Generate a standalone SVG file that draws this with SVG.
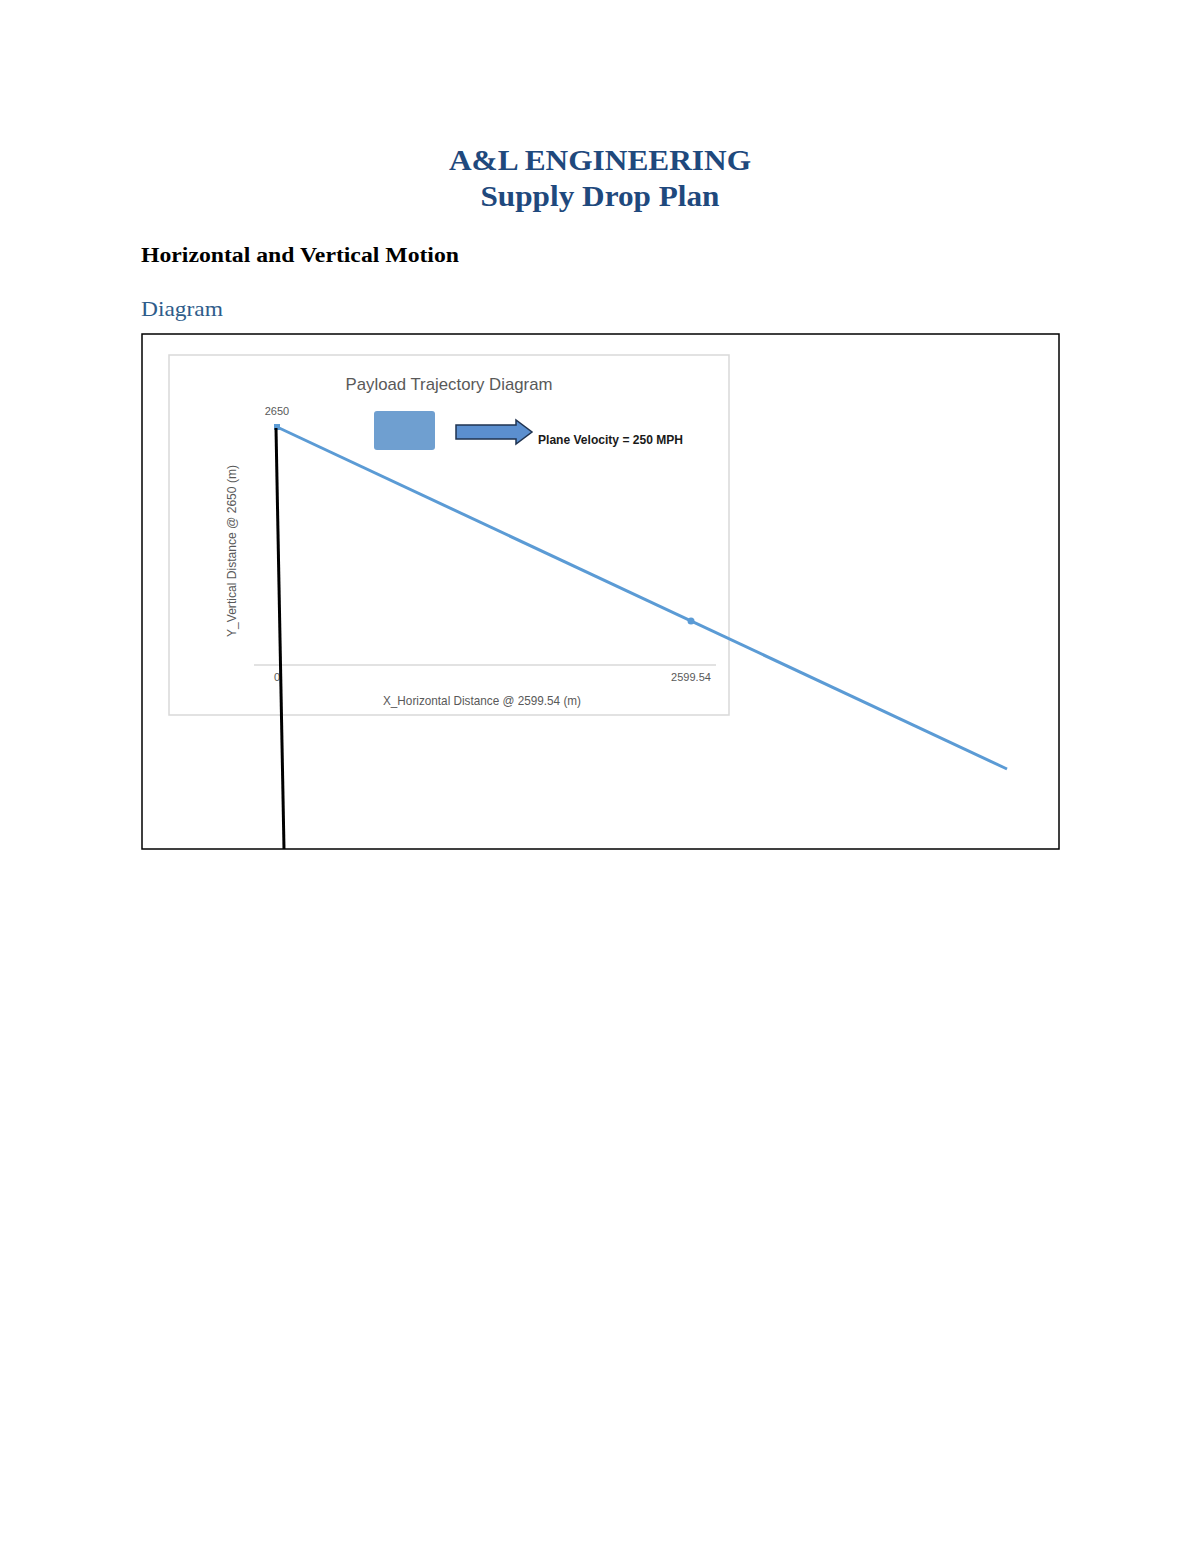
<svg xmlns="http://www.w3.org/2000/svg" width="1200" height="1553" viewBox="0 0 1200 1553">
<style>
.title{font-family:"Liberation Serif","Times New Roman",serif;font-weight:bold;fill:#1f497d;font-size:30px;text-anchor:middle}
.head{font-family:"Liberation Serif",serif;font-weight:bold;fill:#000;font-size:20px}
.sub{font-family:"Liberation Serif",serif;fill:#2e5c8a;font-size:22px}
.ct{font-family:"Liberation Sans Narrow","Liberation Sans",sans-serif;fill:#595959}
</style>
<rect width="1200" height="1553" fill="#fff"/>
<text class="title" x="600" y="170" textLength="302" lengthAdjust="spacingAndGlyphs">A&amp;L ENGINEERING</text>
<text class="title" x="600" y="206" textLength="239" lengthAdjust="spacingAndGlyphs">Supply Drop Plan</text>
<text class="head" x="141" y="262" textLength="318" lengthAdjust="spacingAndGlyphs">Horizontal and Vertical Motion</text>
<text class="sub" x="141" y="316" textLength="82" lengthAdjust="spacingAndGlyphs">Diagram</text>
<g id="frame"><rect x="142" y="334" width="917" height="515" fill="none" stroke="#000" stroke-width="1.5"/></g>
<g id="chart">
<rect x="169" y="355" width="560" height="360" fill="#fff" stroke="#d9d9d9" stroke-width="1.5"/>
<text class="ct" x="449" y="390" font-size="17" text-anchor="middle" textLength="207" lengthAdjust="spacingAndGlyphs">Payload Trajectory Diagram</text>
<line x1="254" y1="665" x2="716" y2="665" stroke="#d9d9d9" stroke-width="1.5"/>
<text class="ct" x="277" y="415" font-size="11" text-anchor="middle" fill="#404040">2650</text>
<text class="ct" x="277" y="681" font-size="11" text-anchor="middle" fill="#404040">0</text>
<text class="ct" x="691" y="681" font-size="11" text-anchor="middle" fill="#404040">2599.54</text>
<text class="ct" x="482" y="705" font-size="13" text-anchor="middle" textLength="198" lengthAdjust="spacingAndGlyphs">X_Horizontal Distance @ 2599.54 (m)</text>
<text class="ct" font-size="13" text-anchor="middle" transform="translate(236,551) rotate(-90)" textLength="172" lengthAdjust="spacingAndGlyphs">Y_Vertical Distance @ 2650  (m)</text>
</g>
<g id="plane"><rect x="374" y="411" width="61" height="39" rx="3" fill="#6f9fd0"/></g>
<g id="arrow"><path d="M456,425 L516,425 L516,420 L532,432 L516,444 L516,439 L456,439 Z" fill="#5b8fcf" stroke="#1f3350" stroke-width="1.5"/>
<text x="538" y="444" font-family="Liberation Sans Narrow,Liberation Sans,sans-serif" font-weight="bold" font-size="12" fill="#1a1a1a" textLength="145" lengthAdjust="spacingAndGlyphs">Plane Velocity = 250 MPH</text></g>
<g id="connectors">
<line x1="277" y1="427" x2="1007" y2="769" stroke="#5b9bd5" stroke-width="3"/>
<rect x="274" y="424" width="6" height="6" fill="#5b9bd5"/>
<circle cx="691" cy="621" r="3.5" fill="#5b9bd5"/>
<line x1="276" y1="428" x2="284" y2="849" stroke="#000" stroke-width="3"/>
</g>
</svg>
